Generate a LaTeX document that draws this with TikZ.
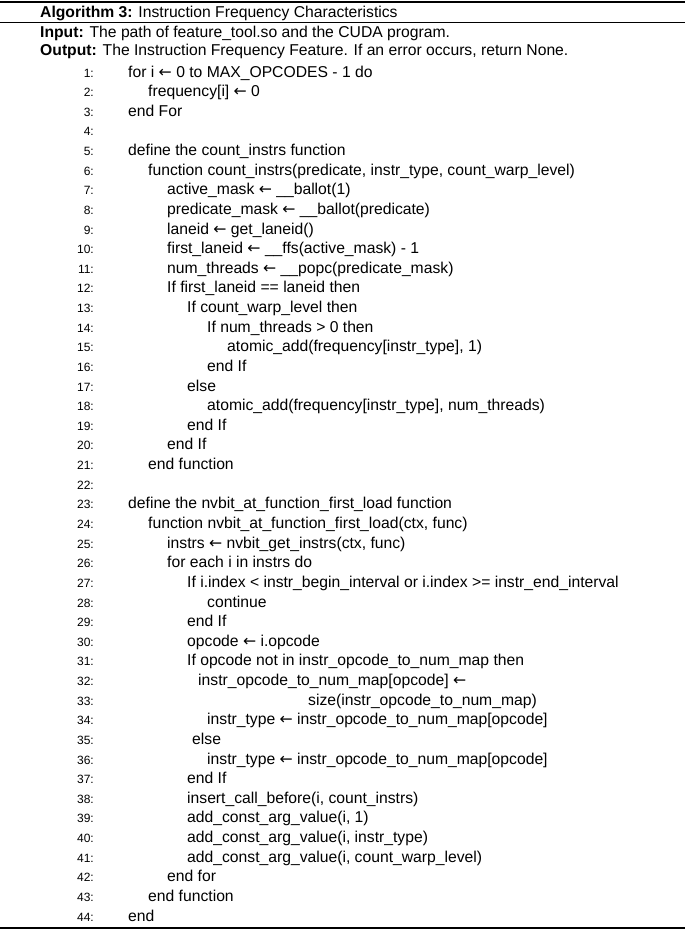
\documentclass[tikz,border=0pt]{standalone}
\usepackage{fontspec}
\setmainfont{Liberation Sans}
\newfontfamily\arrfont{DejaVu Sans}
\newcommand\LA{{\arrfont\symbol{"2190}}}
\begin{document}
\begin{tikzpicture}[x=1pt,y=1pt,
  txt/.style={anchor=base west,inner sep=0,font=\fontsize{15.7}{18}\selectfont},
  num/.style={anchor=base east,inner sep=0,font=\fontsize{12}{14}\selectfont}]
\useasboundingbox (0,0) rectangle (685,-930);
\draw[line width=1.3] (0,-2) -- (685,-2);
\draw[line width=0.9] (0,-22) -- (685,-22);
\draw[line width=1.3] (0,-928) -- (685,-928);
\node[txt] (hd) at (40,-17) {\textbf{Algorithm 3:} Instruction Frequency Characteristics};
\node[txt] (in) at (40,-37) {\textbf{Input:} The path of feature\_tool.so and the CUDA program.};
\node[txt] (out) at (40,-55) {\textbf{Output:} The Instruction Frequency Feature. If an error occurs, return None.};
\newcommand\AL[3]{\node[num] (n#1) at (94,{-(77+(#1-1)*19.63)}) {#1:};
  \node[txt] (t#1) at (#2,{-(77+(#1-1)*19.63)}) {#3};}
\AL{1}{128}{for i \LA{} 0 to MAX\_OPCODES - 1 do}
\AL{2}{148}{frequency[i] \LA{} 0}
\AL{3}{128}{end For}
\node[num] (n4) at (94,{-(77+3*19.63)}) {4:};
\AL{5}{128}{define the count\_instrs function}
\AL{6}{148}{function count\_instrs(predicate, instr\_type, count\_warp\_level)}
\AL{7}{167}{active\_mask \LA{} \_\_ballot(1)}
\AL{8}{167}{predicate\_mask \LA{} \_\_ballot(predicate)}
\AL{9}{167}{laneid \LA{} get\_laneid()}
\AL{10}{167}{first\_laneid \LA{} \_\_ffs(active\_mask) - 1}
\AL{11}{167}{num\_threads \LA{} \_\_popc(predicate\_mask)}
\AL{12}{167}{If first\_laneid == laneid then}
\AL{13}{187}{If count\_warp\_level then}
\AL{14}{207}{If num\_threads > 0 then}
\AL{15}{227}{atomic\_add(frequency[instr\_type], 1)}
\AL{16}{207}{end If}
\AL{17}{187}{else}
\AL{18}{207}{atomic\_add(frequency[instr\_type], num\_threads)}
\AL{19}{187}{end If}
\AL{20}{167}{end If}
\AL{21}{148}{end function}
\node[num] (n22) at (94,{-(77+21*19.63)}) {22:};
\AL{23}{128}{define the nvbit\_at\_function\_first\_load function}
\AL{24}{148}{function nvbit\_at\_function\_first\_load(ctx, func)}
\AL{25}{167}{instrs \LA{} nvbit\_get\_instrs(ctx, func)}
\AL{26}{167}{for each i in instrs do}
\AL{27}{187}{If i.index < instr\_begin\_interval or i.index >= instr\_end\_interval}
\AL{28}{207}{continue}
\AL{29}{187}{end If}
\AL{30}{187}{opcode \LA{} i.opcode}
\AL{31}{187}{If opcode not in instr\_opcode\_to\_num\_map then}
\AL{32}{198}{instr\_opcode\_to\_num\_map[opcode] \LA}
\AL{33}{308}{size(instr\_opcode\_to\_num\_map)}
\AL{34}{207}{instr\_type \LA{} instr\_opcode\_to\_num\_map[opcode]}
\AL{35}{192}{else}
\AL{36}{207}{instr\_type \LA{} instr\_opcode\_to\_num\_map[opcode]}
\AL{37}{187}{end If}
\AL{38}{187}{insert\_call\_before(i, count\_instrs)}
\AL{39}{187}{add\_const\_arg\_value(i, 1)}
\AL{40}{187}{add\_const\_arg\_value(i, instr\_type)}
\AL{41}{187}{add\_const\_arg\_value(i, count\_warp\_level)}
\AL{42}{167}{end for}
\AL{43}{148}{end function}
\AL{44}{128}{end}
\end{tikzpicture}
\end{document}
